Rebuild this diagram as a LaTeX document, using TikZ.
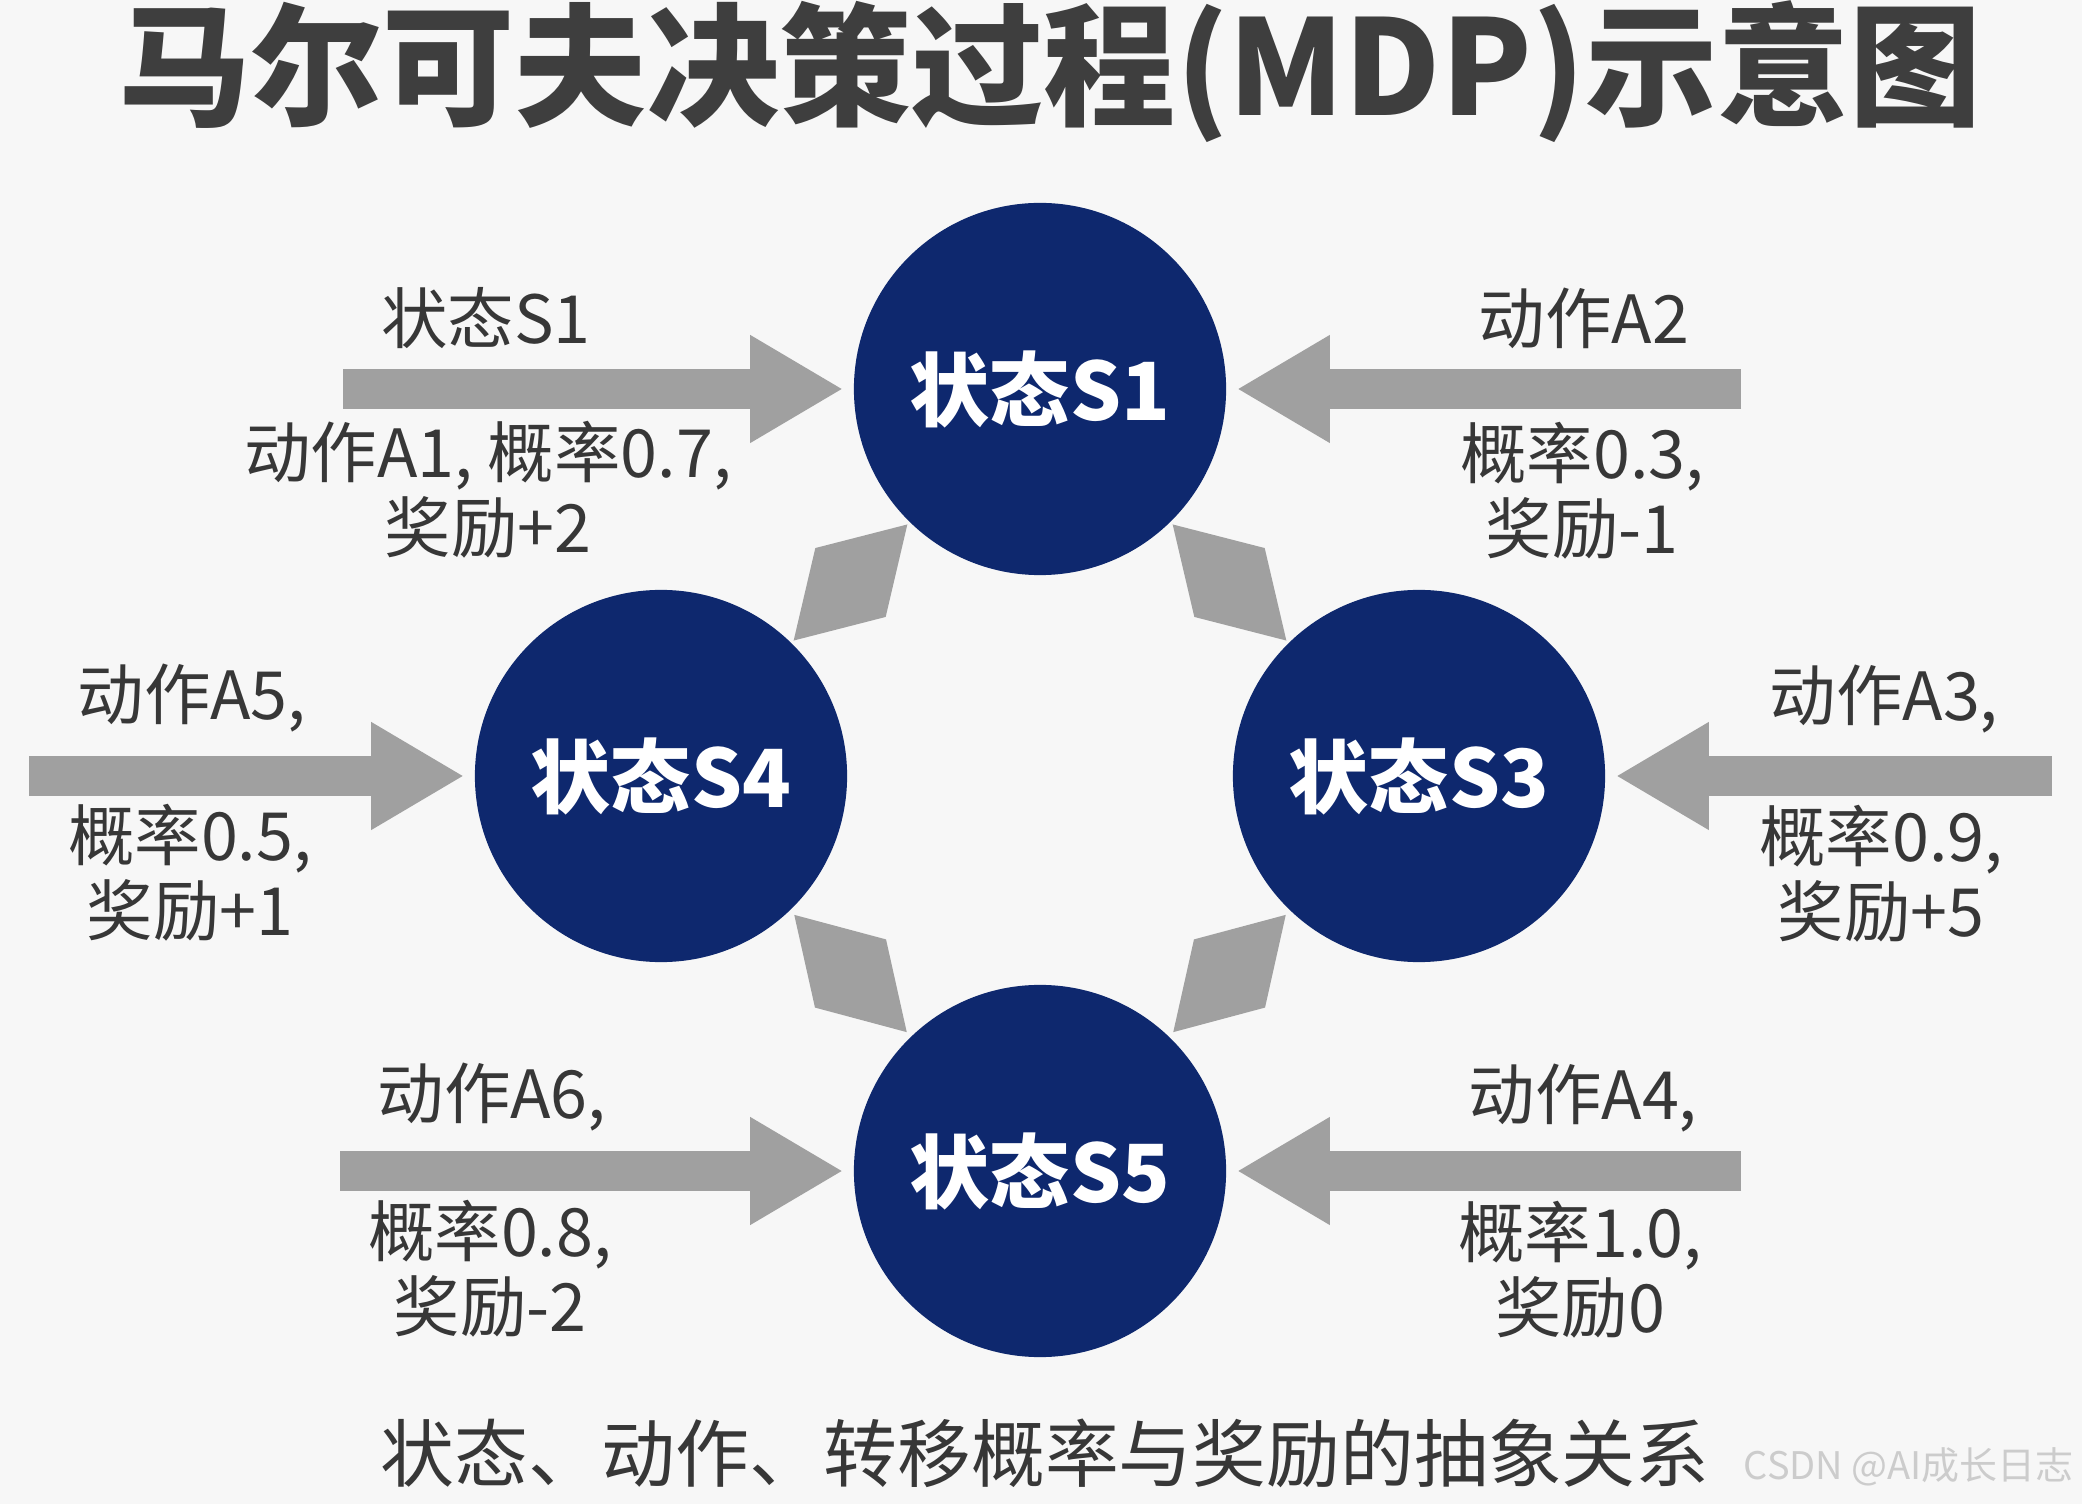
\documentclass[tikz,border=0pt]{standalone}
\usepackage{fontspec}
\setmainfont{Noto Sans CJK SC}
\usetikzlibrary{arrows.meta,shapes.geometric}

\definecolor{navy}{RGB}{14,40,110}
\definecolor{arrowgray}{RGB}{160,160,160}
\definecolor{labelgray}{RGB}{55,55,55}
\definecolor{titlegray}{RGB}{62,62,62}
\definecolor{bggray}{RGB}{247,247,247}

\begin{document}
\begin{tikzpicture}[x=0.01cm, y=-0.01cm,
  mdpstate/.style={circle, fill=navy, minimum size=3.72cm, inner sep=0pt, text=white, font=\bfseries\fontsize{22.8}{24}\selectfont},
  inarrow/.style={draw=arrowgray, line width=0.39cm, -{Triangle[length=0.93cm, width=1.01cm]}, shorten >=0.1cm},
  swapdiamond/.style={diamond, fill=arrowgray, minimum width=1.63cm, minimum height=0.99cm, inner sep=0pt, sloped},
  lbl/.style={text=labelgray, font=\fontsize{18.9}{21.3}\selectfont, align=center}]
% Background
\useasboundingbox (0,0) rectangle (2082,1504);
\fill[bggray] (0,0) rectangle (2082,1504);

% Title
\node[text=titlegray, font=\bfseries\fontsize{37.6}{40}\selectfont] (title) at (1050,72) {马尔可夫决策过程(MDP)示意图};

% States
\node[mdpstate] (s1) at (1040,389) {状态S1};
\node[mdpstate] (s4) at (661,776) {状态S4};
\node[mdpstate] (s3) at (1419,776) {状态S3};
\node[mdpstate] (s5) at (1040,1171) {状态S5};

% Transitions between states
\path (s4) -- node[swapdiamond] (d41) {} (s1);
\path (s1) -- node[swapdiamond] (d13) {} (s3);
\path (s4) -- node[swapdiamond] (d45) {} (s5);
\path (s5) -- node[swapdiamond] (d53) {} (s3);

% Incoming actions
\coordinate (src1) at (343,389);
\coordinate (src2) at (1741,389);
\coordinate (src5) at (29,776);
\coordinate (src3) at (2052,776);
\coordinate (src6) at (340,1171);
\coordinate (src4) at (1741,1171);

\draw[inarrow] (src1) -- (s1);
\draw[inarrow] (src2) -- (s1);
\draw[inarrow] (src5) -- (s4);
\draw[inarrow] (src3) -- (s3);
\draw[inarrow] (src6) -- (s5);
\draw[inarrow] (src4) -- (s5);

% Labels
\node[lbl] (a1top) at (486,318) {状态S1};
\node[lbl] (a1bot) at (488,490) {动作A1, 概率0.7,\\奖励+2};
\node[lbl] (a2top) at (1584,318) {动作A2};
\node[lbl] (a2bot) at (1582,491) {概率0.3,\\奖励-1};
\node[lbl] (a5top) at (192,698) {动作A5,};
\node[lbl] (a5bot) at (190,873) {概率0.5,\\奖励+1};
\node[lbl] (a3top) at (1884,699) {动作A3,};
\node[lbl] (a3bot) at (1881,874) {概率0.9,\\奖励+5};
\node[lbl] (a6top) at (492,1097) {动作A6,};
\node[lbl] (a6bot) at (490,1269) {概率0.8,\\奖励-2};
\node[lbl] (a4top) at (1583,1098) {动作A4,};
\node[lbl] (a4bot) at (1580,1270) {概率1.0,\\奖励0};

% Caption
\node[text=labelgray, font=\fontsize{21}{24}\selectfont] (caption) at (1045,1453) {状态、动作、转移概率与奖励的抽象关系};
\node[anchor=east, inner sep=1pt, text=gray!40, font=\fontsize{10.8}{12}\selectfont] (mark) at (2078,1467) {CSDN @AI成长日志};
\end{tikzpicture}
\end{document}
